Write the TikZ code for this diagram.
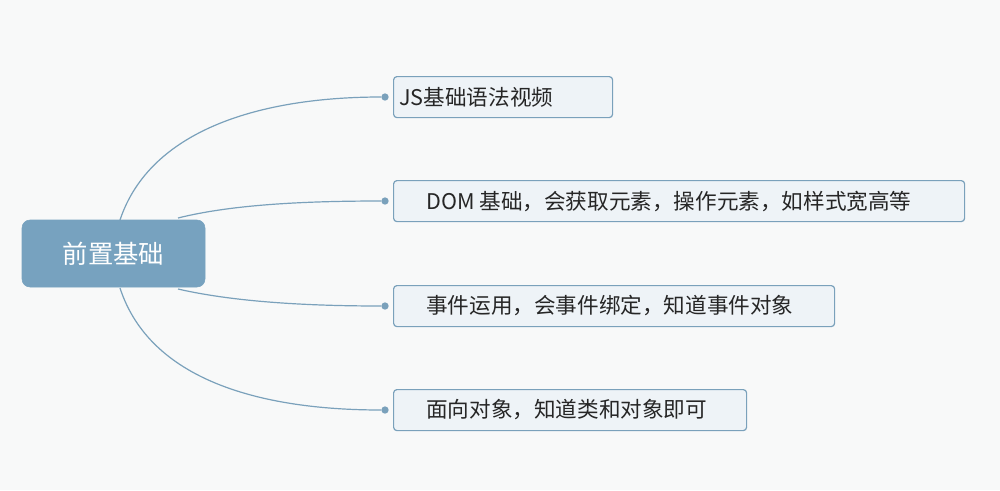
\documentclass[tikz,border=0pt]{standalone}
\usepackage{fontspec}
\setmainfont{Noto Sans CJK SC}
\begin{document}
\begin{tikzpicture}[x=0.75pt,y=-0.75pt,
  leaf/.style={draw=edge,fill=leaffill,line width=0.9pt,rounded corners=2.5pt,anchor=north west,inner sep=0pt,minimum height=41*0.75pt},
  txt/.style={anchor=west,inner sep=0pt,font=\fontsize{16.2}{18}\selectfont,text=black!85},
  link/.style={draw=edge,line width=0.9pt},
  dot/.style={circle,fill=edge,inner sep=0pt,minimum size=5.5pt}]
\definecolor{edge}{HTML}{7AA1BB}
\definecolor{leaffill}{HTML}{EEF3F7}
\definecolor{rootfill}{HTML}{77A2BF}
\fill[fill={rgb,255:red,248;green,249;blue,249}] (0,0) rectangle (1000,490);
\useasboundingbox (0,0) rectangle (1000,490);
\node[fill=rootfill,draw=rootfill,rounded corners=6pt,minimum width=183*0.75pt,minimum height=67*0.75pt,text=white,font=\fontsize{19}{22}\selectfont] (root) at (113.5,253.5) {前置基础};
\node[leaf,minimum width=219*0.75pt] (n1) at (393,76) {};
\node[txt] at (399,97) {JS基础语法视频};
\node[leaf,minimum width=571*0.75pt] (n2) at (393,180) {};
\node[txt] at (426,201) {DOM 基础，会获取元素，操作元素，如样式宽高等};
\node[leaf,minimum width=441*0.75pt] (n3) at (393,285) {};
\node[txt] at (426,306) {事件运用，会事件绑定，知道事件对象};
\node[leaf,minimum width=353*0.75pt] (n4) at (393,389) {};
\node[txt] at (426,410) {面向对象，知道类和对象即可};
\node[dot] (d1) at (385,97) {};
\node[dot] (d2) at (385,201) {};
\node[dot] (d3) at (385,306) {};
\node[dot] (d4) at (385,410) {};
\coordinate (r1) at (120,220);
\coordinate (r2) at (178,218);
\coordinate (r3) at (178,289);
\coordinate (r4) at (120,288);
\draw[link] (r1) .. controls (150,130) and (260,97) .. (d1);
\draw[link] (r2) .. controls (230,205) and (300,201) .. (d2);
\draw[link] (r3) .. controls (230,301) and (300,306) .. (d3);
\draw[link] (r4) .. controls (150,380) and (260,410) .. (d4);
\end{tikzpicture}
\end{document}
